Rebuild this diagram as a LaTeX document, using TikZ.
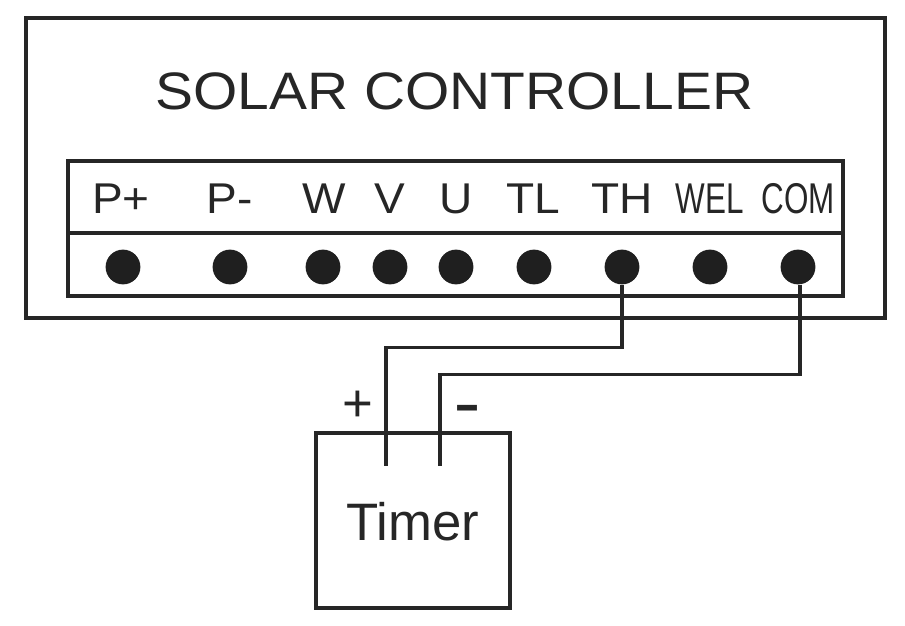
\documentclass[tikz,border=0pt]{standalone}
\usepackage{fontspec}
\setmainfont{Liberation Sans}
\usetikzlibrary{positioning}
\tikzset{
  frame/.style={draw=black!85, line width=2pt},
  wire/.style={draw=black!85, line width=2pt},
  terminal/.style={circle, fill=black!88, minimum size=19.8pt, inner sep=0pt},
  pinlabel/.style={font=\fontsize{24.5}{26}\selectfont, text=black!85, inner sep=0pt, anchor=base},
  biglabel/.style={font=\fontsize{30}{34}\selectfont, text=black!85, inner sep=0pt, anchor=base}
}
\begin{document}
\begin{tikzpicture}[x=0.02cm, y=-0.02cm]
    \useasboundingbox (0,0) rectangle (905,625);
    % controller box and terminal strip
    \draw[frame] (26,18) rectangle (885,318);
    \draw[frame] (68,161) rectangle (843,296);
    \draw[frame] (68,233) -- (843,233);
    \node[biglabel, xscale=1.08] (title) at (454.5,110) {SOLAR CONTROLLER};
    % terminals
    \foreach \name/\x/\lab in {Pp/121/P+, Pm/230/P-, W/324/W, V/390/V, U/456/U, TL/533/TL, TH/622/TH}
      \node[pinlabel, xscale=1.07] (lab\name) at (\x,213) {\lab};
    \node[pinlabel, xscale=0.73] (labWEL) at (710,213) {WEL};
    \node[pinlabel, xscale=0.73] (labCOM) at (798,213) {COM};
    \foreach \name/\x in {Pp/123, Pm/230, W/323, V/390, U/456, TL/534, TH/622, WEL/710, COM/798}
      \node[terminal] (dot\name) at (\x,267) {};
    % timer
    \draw[frame] (316,433) rectangle (510,608);
    \node[biglabel] (timer) at (413,540) {Timer};
    \node[biglabel] (plus) at (358,421) {+};
    \node[biglabel, font=\fontsize{27}{30}\selectfont\bfseries, xscale=1.65] (minus) at (468,420) {-};
    % wires
    \coordinate (leadA) at (386,466);
    \coordinate (leadB) at (440,466);
    \draw[wire] (dotTH.south) -- (622,347.5) -| (leadA);
    \draw[wire] (dotCOM.south) ++(2,0) -- (800,374.5) -| (leadB);
  \end{tikzpicture}
\end{document}
